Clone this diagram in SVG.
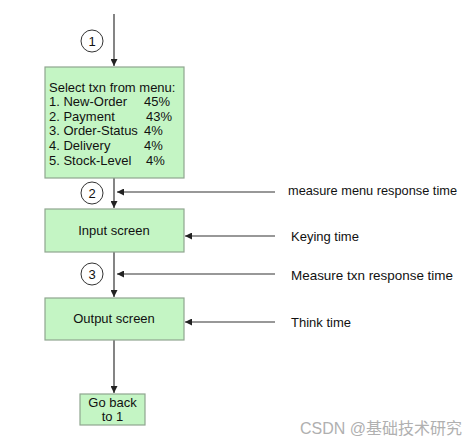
<svg xmlns="http://www.w3.org/2000/svg" width="474" height="442" viewBox="0 0 474 442">
<style>
.box{fill:#c4f5c4;stroke:#8fa68f;stroke-width:1.2}
.t{font-family:"Liberation Sans",Arial,sans-serif;font-size:13px;fill:#111}
.lbl{font-family:"Liberation Sans",Arial,sans-serif;font-size:13px;fill:#111}
.c{fill:#fff;stroke:#333;stroke-width:1}
.ln{stroke:#333;stroke-width:1.2;fill:none}
</style>
<defs>
<marker id="ah" viewBox="0 0 10 10" refX="10" refY="5" markerWidth="7" markerHeight="7" orient="auto" markerUnits="userSpaceOnUse">
<path d="M0,0 L10,5 L0,10 z" fill="#222"/>
</marker>
</defs>
<rect width="474" height="442" fill="#fff"/>
<g id="connectors">
<line class="ln" x1="114" y1="14" x2="114" y2="66" marker-end="url(#ah)"/>
<line class="ln" x1="114" y1="178" x2="114" y2="208" marker-end="url(#ah)"/>
<line class="ln" x1="114" y1="252" x2="114" y2="297" marker-end="url(#ah)"/>
<line class="ln" x1="114" y1="340" x2="114" y2="393" marker-end="url(#ah)"/>
<line class="ln" x1="275" y1="192" x2="117" y2="192" marker-end="url(#ah)"/>
<line class="ln" x1="275" y1="236" x2="185" y2="236" marker-end="url(#ah)"/>
<line class="ln" x1="275" y1="274" x2="117" y2="274" marker-end="url(#ah)"/>
<line class="ln" x1="275" y1="322" x2="185" y2="322" marker-end="url(#ah)"/>
</g>
<g id="step1"><circle class="c" cx="92" cy="41" r="11"/><text class="t" x="92" y="46" text-anchor="middle">1</text></g>
<g id="step2"><circle class="c" cx="92" cy="193" r="11"/><text class="t" x="92" y="198" text-anchor="middle">2</text></g>
<g id="step3"><circle class="c" cx="92" cy="274" r="11"/><text class="t" x="92" y="279" text-anchor="middle">3</text></g>
<g id="menu">
<rect class="box" x="45" y="67" width="139" height="111"/>
<text class="t" x="49" y="92">Select txn from menu:</text>
<text class="t" x="49" y="106">1. New-Order</text><text class="t" x="144" y="106">45%</text>
<text class="t" x="49" y="121">2. Payment</text><text class="t" x="146" y="121">43%</text>
<text class="t" x="49" y="135">3. Order-Status</text><text class="t" x="144" y="135">4%</text>
<text class="t" x="49" y="150">4. Delivery</text><text class="t" x="144" y="150">4%</text>
<text class="t" x="49" y="165">5. Stock-Level</text><text class="t" x="146" y="165">4%</text>
</g>
<g id="input">
<rect class="box" x="45" y="209" width="139" height="43"/>
<text class="t" x="114" y="235" text-anchor="middle">Input screen</text>
</g>
<g id="output">
<rect class="box" x="45" y="298" width="139" height="42"/>
<text class="t" x="114" y="323" text-anchor="middle">Output screen</text>
</g>
<g id="goback">
<rect class="box" x="80" y="394" width="65" height="31"/>
<text class="t" x="112.5" y="407" text-anchor="middle">Go back</text>
<text class="t" x="112.5" y="421" text-anchor="middle">to 1</text>
</g>
<g id="labels">
<text class="lbl" x="288" y="195" textLength="169" lengthAdjust="spacingAndGlyphs">measure menu response time</text>
<text class="lbl" x="291" y="241">Keying time</text>
<text class="lbl" x="291" y="280" textLength="162" lengthAdjust="spacingAndGlyphs">Measure txn response time</text>
<text class="lbl" x="291" y="327">Think time</text>
</g>
<text x="300" y="434" font-family="'Liberation Sans','Noto Sans CJK SC',sans-serif" font-size="16" fill="#b0b0b0">CSDN @基础技术研究</text>
</svg>
